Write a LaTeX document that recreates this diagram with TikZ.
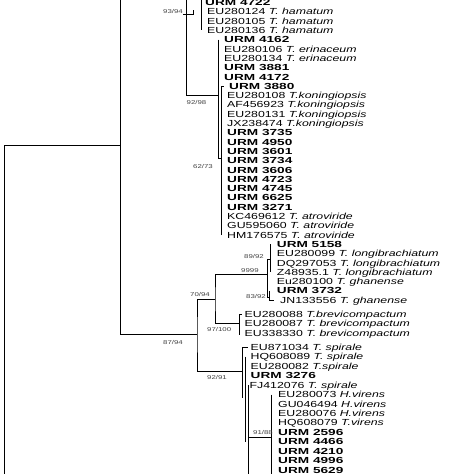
\documentclass[tikz,border=0pt]{standalone}
\usepackage{fontspec}
\usepackage{graphicx}
\usepackage{tikz}
\newfontfamily\treefont[FakeStretch=1.4, ItalicFeatures={FakeStretch=1.4}]{Liberation Sans}
\newfontfamily\urmfont{Liberation Sans}
\newcommand{\leaffont}{\treefont\fontsize{8.8}{9}\selectfont}
\newcommand{\urmleaffont}{\urmfont\bfseries\fontsize{8.8}{9}\selectfont}
\newcommand{\bootfont}{\treefont\fontsize{5.6}{6}\selectfont}
\newcommand{\urm}[1]{\scalebox{1.55}[1]{URM #1}}

\begin{document}
\begin{tikzpicture}[
  x=1pt, y=-1pt,
  branch/.style = {draw, line width=0.9pt},
  leaf/.style = {anchor=west, inner sep=0pt, text height=6.3pt, text depth=0pt, font=\leaffont},
  urmleaf/.style = {leaf, font=\urmleaffont},
  boot/.style = {anchor=west, inner sep=0pt, text height=4pt, text depth=0pt, font=\bootfont, text=black!75}
]
  \useasboundingbox (0,0) rectangle (474,474);
  \clip (0,0) rectangle (474,474);

  % ======================================================
  % Leaves: hamatum / erinaceum / koningiopsis / atroviride
  % ======================================================
  \node[urmleaf] (urm4722) at (205,2.5) {\urm{4722}};
  \node[leaf] (eu280124) at (207,11.8) {EU280124 \textit{T. hamatum}};
  \node[leaf] (eu280105) at (207,21.1) {EU280105 \textit{T. hamatum}};
  \node[leaf] (eu280136) at (207,30.4) {EU280136 \textit{T. hamatum}};
  \node[urmleaf] (urm4162) at (224,39.7) {\urm{4162}};
  \node[leaf] (eu280106) at (224,49.0) {EU280106 \textit{T. erinaceum}};
  \node[leaf] (eu280134) at (224,58.3) {EU280134 \textit{T. erinaceum}};
  \node[urmleaf] (urm3881) at (224,67.6) {\urm{3881}};
  \node[urmleaf] (urm4172) at (224,76.9) {\urm{4172}};
  \node[urmleaf] (urm3880) at (229,86.2) {\urm{3880}};
  \node[leaf] (eu280108) at (227,95.5) {EU280108 \textit{T.koningiopsis}};
  \node[leaf] (af456923) at (227,104.8) {AF456923 \textit{T.koningiopsis}};
  \node[leaf] (eu280131) at (227,114.1) {EU280131 \textit{T.koningiopsis}};
  \node[leaf] (jx238474) at (227,123.4) {JX238474 \textit{T.koningiopsis}};
  \node[urmleaf] (urm3735) at (227,132.7) {\urm{3735}};
  \node[urmleaf] (urm4950) at (227,142.0) {\urm{4950}};
  \node[urmleaf] (urm3601) at (227,151.3) {\urm{3601}};
  \node[urmleaf] (urm3734) at (227,160.6) {\urm{3734}};
  \node[urmleaf] (urm3606) at (227,169.9) {\urm{3606}};
  \node[urmleaf] (urm4723) at (227,179.2) {\urm{4723}};
  \node[urmleaf] (urm4745) at (227,188.5) {\urm{4745}};
  \node[urmleaf] (urm6625) at (227,197.8) {\urm{6625}};
  \node[urmleaf] (urm3271) at (227,207.1) {\urm{3271}};
  \node[leaf] (kc469612) at (227,216.4) {KC469612 \textit{T. atroviride}};
  \node[leaf] (gu595060) at (227,225.7) {GU595060 \textit{T. atroviride}};
  \node[leaf] (hm176575) at (227,235.0) {HM176575 \textit{T. atroviride}};

  % ======================================================
  % Leaves: longibrachiatum / ghanense / brevicompactum
  % ======================================================
  \node[urmleaf] (urm5158) at (276.7,244.3) {\urm{5158}};
  \node[leaf] (eu280099) at (276.7,253.6) {EU280099 \textit{T. longibrachiatum}};
  \node[leaf] (dq297053) at (276.7,262.9) {DQ297053 \textit{T. longibrachiatum}};
  \node[leaf] (z48935) at (276.7,272.2) {Z48935.1 \textit{T. longibrachiatum}};
  \node[leaf] (eu280100) at (276.7,281.5) {Eu280100 \textit{T. ghanense}};
  \node[urmleaf] (urm3732) at (276.7,290.8) {\urm{3732}};
  \node[leaf] (jn133556) at (280,300.1) {JN133556 \textit{T. ghanense}};
  \node[leaf] (eu280088) at (244.5,314.3) {EU280088 \textit{T.brevicompactum}};
  \node[leaf] (eu280087) at (244.5,323.6) {EU280087 \textit{T. brevicompactum}};
  \node[leaf] (eu338330) at (244.5,333.0) {EU338330 \textit{T. brevicompactum}};

  % ======================================================
  % Leaves: spirale / virens
  % ======================================================
  \node[leaf] (eu871034) at (250.5,347.3) {EU871034 \textit{T. spirale}};
  \node[leaf] (hq608089) at (250.5,356.7) {HQ608089 \textit{T. spirale}};
  \node[leaf] (eu280082) at (250.5,366.2) {EU280082 \textit{T.spirale}};
  \node[urmleaf] (urm3276) at (250.5,375.6) {\urm{3276}};
  \node[leaf] (fj412076) at (249.5,385.0) {FJ412076 \textit{T. spirale}};
  \node[leaf] (eu280073) at (278,394.5) {EU280073 \textit{H.virens}};
  \node[leaf] (gu046494) at (278,403.9) {GU046494 \textit{H.virens}};
  \node[leaf] (eu280076) at (278,413.3) {EU280076 \textit{H.virens}};
  \node[leaf] (hq608079) at (278,422.8) {HQ608079 \textit{T.virens}};
  \node[urmleaf] (urm2596) at (278,432.2) {\urm{2596}};
  \node[urmleaf] (urm4466) at (278,441.6) {\urm{4466}};
  \node[urmleaf] (urm4210) at (278,451.1) {\urm{4210}};
  \node[urmleaf] (urm4996) at (278,460.5) {\urm{4996}};
  \node[urmleaf] (urm5629) at (278,469.9) {\urm{5629}};

  % ======================================================
  % Internal nodes
  % ======================================================
  \coordinate (nRoot) at (4.7,474);
  \coordinate (nA) at (120,145.7);
  \coordinate (nAtop) at (120,0);
  \coordinate (nC) at (197,334);
  \coordinate (nE) at (215,299.3);
  \coordinate (nF) at (267,274);
  \coordinate (nG) at (239.3,323.3);
  \coordinate (nL) at (270.5,259);
  \coordinate (nGh) at (269.5,297);
  \coordinate (nH) at (242,371.7);
  \coordinate (nH2) at (245,400);
  \coordinate (nH3) at (248,437);
  \coordinate (nH3end) at (248,474);
  \coordinate (nV) at (271.7,437);
  \coordinate (nTop) at (186,0);
  \coordinate (nHam) at (201.5,0);
  \coordinate (nK) at (218.3,95);
  \coordinate (nB) at (221.7,158);
  \coordinate (t9394) at (183,14.5);
  \coordinate (k9394) at (193,10);

  % root -> upper clade
  \draw[branch] (nRoot) |- (nA);
  \draw[branch] (nAtop) |- (nC);

  % hamatum
  \draw[branch] (nHam) -- (nHam |- eu280136.west);
  \draw[branch] (t9394) -| (k9394);

  % erinaceum + koningiopsis/atroviride
  \draw[branch] (nTop) |- (nK);
  \draw[branch] (nK |- urm4162.west) -- (nK |- nB) -- (nB);
  \draw[branch, shorten >=5pt] (nB |- hm176575.west) -- (nB |- urm3880.west) -- (urm3880.west);

  % lower clade (87/94)
  \draw[branch] (nE) -| (nC) |- (nH);
  \draw[branch] (nF) -| (nE) |- (nG);

  % brevicompactum
  \draw[branch, shorten >=2.5pt] (nG) |- (eu280088.west);
  \draw[branch] (nG) -- ([yshift=-2pt]nG |- eu338330.west);

  % longibrachiatum / ghanense
  \draw[branch] (nF |- nL) -- (nL);
  \draw[branch] (nF |- nL) |- (nGh);
  \draw[branch] (nL |- urm5158.west) -- (nL |- z48935.west);
  \draw[branch, shorten >=6pt] (nGh |- urm3732.west) |- (jn133556.west);

  % spirale / virens
  \draw[branch, shorten >=2.5pt] (nH) |- (eu871034.west);
  \draw[branch] (nH) -- ([yshift=-3pt]nH |- eu280073.west);
  \draw[branch] (nH2 |- hq608089.west) -- (nH2 |- urm4466.west);
  \draw[branch, shorten >=1.5pt] (nH3end) -- (nH3 |- fj412076.west) -- (fj412076.west);
  \draw[branch] (nH3) -- (nV);
  \draw[branch] (nV |- eu280073.west) -- (nV |- nH3end);

  % bootstrap values
  \node[boot] (b9394) at (163,11.7) {93/94};
  \node[boot] (b9298) at (186.5,102.5) {92/98};
  \node[boot] (b6273) at (193,166) {62/73};
  \node[boot] (b8992) at (244,256) {89/92};
  \node[boot] (b9999) at (241,270) {9999};
  \node[boot] (b7094) at (190,294) {70/94};
  \node[boot] (b8392) at (246,296.7) {83/92};
  \node[boot] (b97100) at (207,329) {97/100};
  \node[boot] (b8794) at (163,342) {87/94};
  \node[boot] (b9291) at (207,377.5) {92/91};
  \node[boot] (b9188) at (253,432.5) {91/88};

\end{tikzpicture}
\end{document}
